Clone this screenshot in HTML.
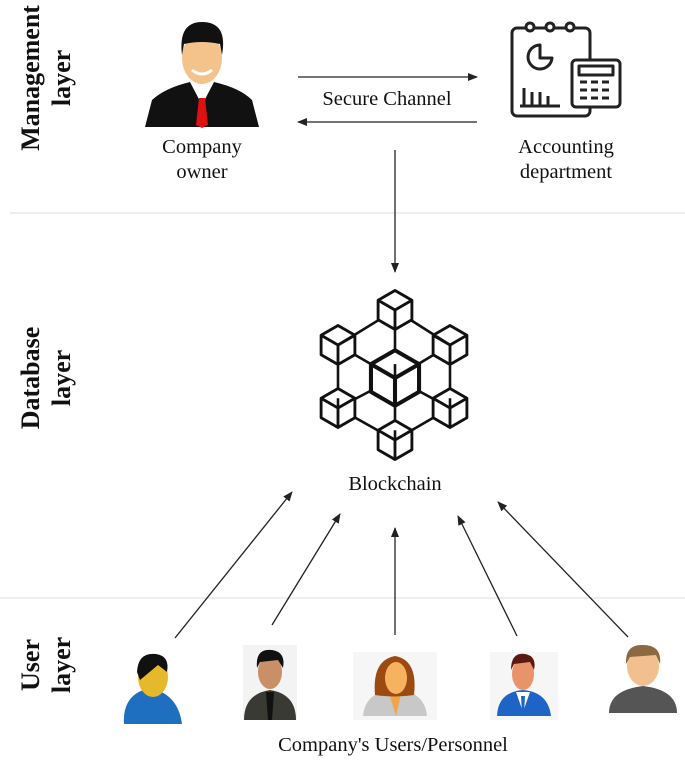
<!DOCTYPE html>
<html><head><meta charset="utf-8"><style>
html,body{margin:0;padding:0;background:#fff}
svg text{font-family:"Liberation Serif",serif;fill:#111}
</style></head><body>
<svg width="685" height="760" viewBox="0 0 685 760" xmlns="http://www.w3.org/2000/svg">
<defs>
<marker id="ah" markerWidth="10" markerHeight="8" refX="9" refY="4" orient="auto" markerUnits="userSpaceOnUse">
<path d="M0,0 L10,4 L0,8 z" fill="#222"/></marker>
<g id="cube">
<path d="M0,-15 L13,-7.5 L13,7.5 L0,15 L-13,7.5 L-13,-7.5 Z M-13,-7.5 L0,0 L13,-7.5 M0,0 L0,15" fill="#fff" stroke="#111" stroke-width="2.2" stroke-linejoin="round"/>
</g>
</defs>
<line x1="10" y1="213" x2="685" y2="213" stroke="#ddd" stroke-width="1"/>
<line x1="0" y1="598" x2="685" y2="598" stroke="#ddd" stroke-width="1"/>
<g font-weight="bold" font-size="26">
<text transform="translate(39,78) rotate(-90)" text-anchor="middle">Management</text>
<text transform="translate(70,78) rotate(-90)" text-anchor="middle">layer</text>
<text transform="translate(39,378) rotate(-90)" text-anchor="middle">Database</text>
<text transform="translate(70,378) rotate(-90)" text-anchor="middle">layer</text>
<text transform="translate(39,665) rotate(-90)" text-anchor="middle">User</text>
<text transform="translate(70,665) rotate(-90)" text-anchor="middle">layer</text>
</g>
<!-- owner -->
<path d="M145,127 L152,100 Q165,88 190,82 L202,95 L214,82 Q240,88 252,100 L259,127 Z" fill="#111"/>
<path d="M190,82 L202,105 L214,82 Z" fill="#fff"/>
<path d="M199,98 L205,98 L208,125 L202,128 L196,125 Z" fill="#d11"/>
<ellipse cx="202" cy="58" rx="20" ry="26" fill="#f4c38c"/>
<path d="M182,55 Q178,22 202,22 Q228,22 222,55 L220,44 Q202,40 184,44 Z" fill="#111"/>
<path d="M192,70 Q202,78 212,70" stroke="#fff" stroke-width="3" fill="none"/>
<text x="202" y="153" font-size="20.5" text-anchor="middle">Company</text>
<text x="202" y="178" font-size="20.5" text-anchor="middle">owner</text>
<!-- accounting -->
<g fill="none" stroke="#222" stroke-width="3" stroke-linejoin="round">
<rect x="512" y="28" width="78" height="88" rx="5"/>
<circle cx="530" cy="27" r="4" fill="#fff"/><circle cx="550" cy="27" r="4" fill="#fff"/><circle cx="570" cy="27" r="4" fill="#fff"/>
<path d="M540,45 A12,12 0 1,0 552,58 L540,58 Z"/>
<path d="M524,105 L524,88 M532,105 L532,92 M540,105 L540,92 M548,105 L548,96 M520,106 L560,106"/>
<rect x="572" y="60" width="48" height="47" rx="4" fill="#fff"/>
<rect x="579" y="66" width="34" height="9"/>
<path d="M580,82 H612 M580,90 H612 M580,98 H612" stroke-dasharray="7 4"/>
</g>
<text x="566" y="153" font-size="20.5" text-anchor="middle">Accounting</text>
<text x="566" y="178" font-size="20.5" text-anchor="middle">department</text>
<!-- secure channel -->
<line x1="298" y1="77" x2="477" y2="77" stroke="#222" stroke-width="1.3" marker-end="url(#ah)"/>
<line x1="477" y1="122" x2="298" y2="122" stroke="#222" stroke-width="1.3" marker-end="url(#ah)"/>
<text x="387" y="105" font-size="20.5" text-anchor="middle">Secure Channel</text>
<line x1="395" y1="150" x2="395" y2="272" stroke="#222" stroke-width="1.3" marker-end="url(#ah)"/>
<!-- blockchain -->
<g stroke="#111" stroke-width="2.6">
<path d="M395,310 L450,345 L450,408 L395,440 L338,408 L338,345 Z" fill="none"/>
<line x1="395" y1="310" x2="395" y2="378"/><line x1="338" y1="345" x2="395" y2="378"/><line x1="450" y1="345" x2="395" y2="378"/>
<line x1="338" y1="408" x2="395" y2="378"/><line x1="450" y1="408" x2="395" y2="378"/><line x1="395" y1="440" x2="395" y2="378"/>
</g>
<g transform="translate(395,310) scale(1.3)"><use href="#cube"/></g>
<g transform="translate(338,345) scale(1.3)"><use href="#cube"/></g>
<g transform="translate(450,345) scale(1.3)"><use href="#cube"/></g>
<g transform="translate(338,408) scale(1.3)"><use href="#cube"/></g>
<g transform="translate(450,408) scale(1.3)"><use href="#cube"/></g>
<g transform="translate(395,440) scale(1.3)"><use href="#cube"/></g>
<g transform="translate(395,378) scale(1.85)"><use href="#cube"/></g>
<text x="395" y="490" font-size="20.5" text-anchor="middle">Blockchain</text>
<!-- user arrows -->
<g stroke="#222" stroke-width="1.3">
<line x1="175" y1="638" x2="292" y2="492" marker-end="url(#ah)"/>
<line x1="272" y1="625" x2="340" y2="514" marker-end="url(#ah)"/>
<line x1="395" y1="635" x2="395" y2="528" marker-end="url(#ah)"/>
<line x1="517" y1="636" x2="458" y2="516" marker-end="url(#ah)"/>
<line x1="628" y1="637" x2="498" y2="502" marker-end="url(#ah)"/>
</g>
<!-- users -->
<path d="M124,724 Q122,694 150,688 Q178,694 182,724 Z" fill="#1f6fc0"/>
<ellipse cx="153" cy="677" rx="15" ry="20" fill="#e6b92c"/>
<path d="M137,672 Q138,652 156,654 Q170,656 167,672 L158,665 L140,680 Z" fill="#111"/>
<rect x="243" y="645" width="54" height="75" fill="#f3f3f3"/>
<path d="M244,720 Q244,694 270,690 Q296,694 296,720 Z" fill="#3a3a34"/>
<path d="M266,692 L274,692 L272,720 L268,720 Z" fill="#111"/>
<ellipse cx="270" cy="672" rx="12" ry="17" fill="#c99068"/>
<path d="M257,668 Q255,648 272,650 Q286,652 283,668 L278,660 L260,662 Z" fill="#111"/>
<rect x="353" y="652" width="84" height="68" fill="#f6f6f6"/>
<path d="M363,716 Q365,692 395,688 Q425,692 427,716 Z" fill="#c8c8c8"/>
<path d="M388,690 L402,690 L396,716 Z" fill="#f1a54b"/>
<path d="M375,695 Q372,660 395,656 Q418,660 414,695 Q395,698 375,695 Z" fill="#9b4a12"/>
<ellipse cx="396" cy="678" rx="11" ry="16" fill="#f6b25e"/>
<rect x="490" y="652" width="68" height="68" fill="#f6f6f6"/>
<path d="M497,716 Q498,692 523,690 Q548,692 551,716 Z" fill="#1e63c6"/>
<path d="M516,692 L530,692 L523,712 Z" fill="#fff"/><path d="M521,696 L525,696 L524,714 L522,714 Z" fill="#1e63c6"/>
<ellipse cx="523" cy="674" rx="11" ry="16" fill="#e8936a"/>
<path d="M511,670 Q511,652 525,654 Q537,656 534,670 L530,662 L514,664 Z" fill="#5a1a10"/>
<path d="M609,713 Q609,690 643,686 Q677,690 677,713 Z" fill="#555"/>
<ellipse cx="643" cy="666" rx="16" ry="20" fill="#f2c08f"/>
<path d="M626,664 Q625,644 643,645 Q662,645 660,664 L656,655 L630,657 Z" fill="#8b6a42"/>
<text x="393" y="751" font-size="20.5" text-anchor="middle">Company's Users/Personnel</text>
</svg>
</body></html>
